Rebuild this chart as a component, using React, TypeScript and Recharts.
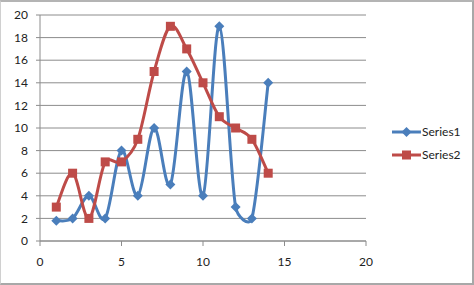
import React from "react";
import { LineChart, Line, XAxis, YAxis, CartesianGrid, Legend } from "recharts";

// values
const xValues = [1, 2, 3, 4, 5, 6, 7, 8, 9, 10, 11, 12, 13, 14];
const series1 = [1.8, 2, 4, 2, 8, 4, 10, 5, 15, 4, 19, 3, 2, 14];
const series2 = [3, 6, 2, 7, 7, 9, 15, 19, 17, 14, 11, 10, 9, 6];
const xTicks = [0, 5, 10, 15, 20];
const yTicks = [0, 2, 4, 6, 8, 10, 12, 14, 16, 18, 20];

const BLUE = "#4A7EBB";
const RED = "#BE4B48";
const FONT = "Lato, 'Open Sans', sans-serif";

const data = xValues.map((x, i) => ({ x, s1: series1[i], s2: series2[i] }));

const dist = (a: number[], b: number[]) => Math.hypot(b[0] - a[0], b[1] - a[1]);

// Excel-like smoothed line: Catmull-Rom, tension cut down on short segments
function excelCurve(context: any) {
  let pts: number[][] = [];
  return {
    areaStart() {},
    areaEnd() {},
    lineStart() {
      pts = [];
    },
    point(x: number, y: number) {
      pts.push([+x, +y]);
    },
    lineEnd() {
      if (!pts.length) return;
      context.moveTo(pts[0][0], pts[0][1]);
      for (let i = 0; i < pts.length - 1; i++) {
        const p0 = pts[i - 1] || pts[i];
        const p1 = pts[i];
        const p2 = pts[i + 1];
        const p3 = pts[i + 2] || p2;
        const seg = dist(p1, p2);
        const d02 = dist(p0, p2);
        const d13 = dist(p1, p3);
        const f1 = d02 > 0 ? Math.min(1 / 6, (0.5 * seg) / d02) : 0;
        const f2 = d13 > 0 ? Math.min(1 / 6, (0.5 * seg) / d13) : 0;
        context.bezierCurveTo(
          p1[0] + (p2[0] - p0[0]) * f1,
          p1[1] + (p2[1] - p0[1]) * f1,
          p2[0] - (p3[0] - p1[0]) * f2,
          p2[1] - (p3[1] - p1[1]) * f2,
          p2[0],
          p2[1]
        );
      }
    },
  };
}

function Diamond({ cx, cy, color }: any) {
  const r = 5;
  return <path d={`M${cx},${cy - r}L${cx + r},${cy}L${cx},${cy + r}L${cx - r},${cy}Z`} fill={color} />;
}

function Square({ cx, cy, color }: any) {
  const r = 4.5;
  return <rect x={cx - r} y={cy - r} width={r * 2} height={r * 2} fill={color} />;
}

const renderLegend = () => (
  <div style={{ fontFamily: FONT, fontSize: 12, color: "#222" }}>
    {[
      { name: "Series1", color: BLUE, Shape: Diamond },
      { name: "Series2", color: RED, Shape: Square },
    ].map(({ name, color, Shape }) => (
      <div key={name} style={{ display: "flex", alignItems: "center", height: 23 }}>
        <svg width={29} height={12}>
          <line x1={0} y1={6} x2={29} y2={6} stroke={color} strokeWidth={3} />
          <Shape cx={14.5} cy={6} color={color} />
        </svg>
        <span style={{ marginLeft: 1 }}>{name}</span>
      </div>
    ))}
  </div>
);

export default function App() {
  const tick = { fill: "#222", fontSize: 12, fontFamily: FONT };
  return (
    <div style={{ position: "absolute", left: 0, top: 0, width: 474, height: 285, background: "#fff" }}>
      <LineChart width={474} height={285} data={data} margin={{ top: 15, right: 28, bottom: 14, left: 0 }}>
        <CartesianGrid horizontal vertical={false} stroke="#8c8c8c" />
        <XAxis
          dataKey="x"
          type="number"
          domain={[0, 20]}
          ticks={xTicks}
          interval={0}
          height={30}
          tickSize={5}
          tickMargin={11}
          stroke="#8c8c8c"
          tick={tick}
        />
        <YAxis
          type="number"
          domain={[0, 20]}
          ticks={yTicks}
          interval={0}
          width={40}
          tickSize={4}
          tickMargin={8}
          stroke="#8c8c8c"
          tick={tick}
        />
        <Legend
          layout="vertical"
          align="right"
          verticalAlign="middle"
          content={renderLegend}
          wrapperStyle={{ position: "absolute", left: 392, top: 120, width: 80 }}
        />
        <Line
          dataKey="s1"
          name="Series1"
          type={excelCurve as any}
          stroke={BLUE}
          strokeWidth={3}
          dot={(p: any) => <Diamond key={`d1-${p.index}`} cx={p.cx} cy={p.cy} color={BLUE} />}
          activeDot={false}
          isAnimationActive={false}
        />
        <Line
          dataKey="s2"
          name="Series2"
          type={excelCurve as any}
          stroke={RED}
          strokeWidth={3}
          dot={(p: any) => <Square key={`d2-${p.index}`} cx={p.cx} cy={p.cy} color={RED} />}
          activeDot={false}
          isAnimationActive={false}
        />
      </LineChart>
      <div
        style={{
          position: "absolute",
          left: 0,
          top: 0,
          width: 474,
          height: 285,
          boxSizing: "border-box",
          borderTop: "2px solid #b4b4b4",
          borderRight: "2px solid #a8a8a8",
          borderBottom: "2px solid #a8a8a8",
          borderLeft: "1px solid #d0d0d0",
          pointerEvents: "none",
        }}
      />
    </div>
  );
}
